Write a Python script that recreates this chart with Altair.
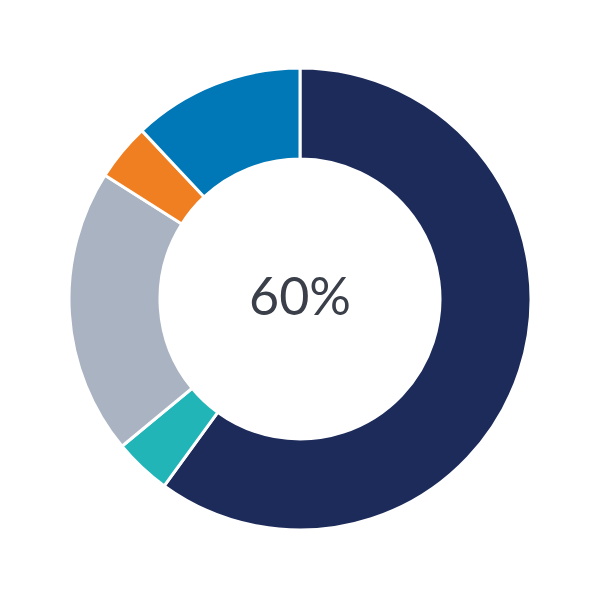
import altair as alt
import pandas as pd

categories = ["A", "B", "C", "D", "E"]
values = [60, 4, 20, 4, 12]
colors = ["#1c2b5a", "#22b5b8", "#a9b3c2", "#f07f22", "#0077b6"]
center_label = ["60%"]

df = pd.DataFrame({"cat": categories, "val": values, "ord": list(range(len(categories)))})

arc = alt.Chart(df).mark_arc(innerRadius=140, outerRadius=231, stroke="white", strokeWidth=3).encode(
    theta=alt.Theta("val:Q", stack=True),
    order=alt.Order("ord:Q"),
    color=alt.Color("cat:N", scale=alt.Scale(domain=categories, range=colors), legend=None),
)

txt = alt.Chart(pd.DataFrame({"t": center_label})).mark_text(
    font="Lato", fontSize=52, color="#3b3f4a", baseline="middle", align="center"
).encode(text="t:N")

chart = alt.layer(arc, txt).properties(
    width=584, height=582, padding=0, autosize="none"
).configure_view(stroke=None)

chart.save("out.html", embed_options={"renderer": "svg", "actions": False})
